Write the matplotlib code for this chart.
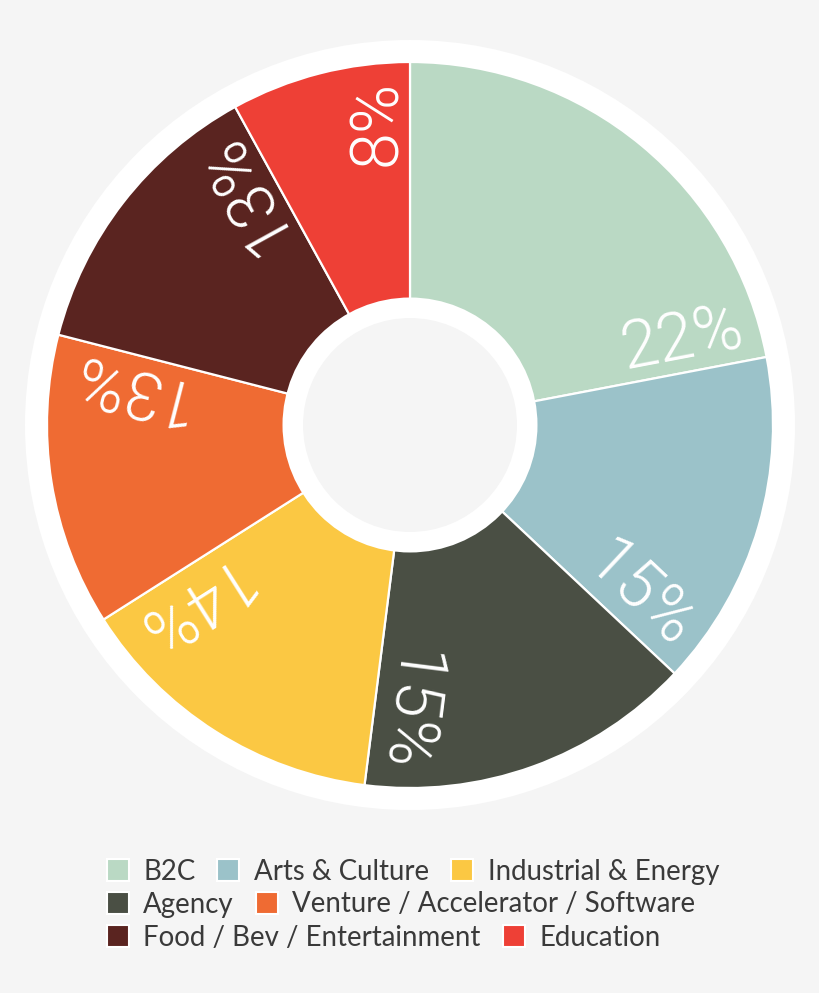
import numpy as np
import matplotlib
matplotlib.use("Agg")
import matplotlib.pyplot as plt
from matplotlib.patches import Circle
from matplotlib.lines import Line2D

categories = ["B2C", "Arts & Culture", "Agency", "Industrial & Energy",
              "Venture / Accelerator / Software", "Food / Bev / Entertainment", "Education"]
values = [22, 15, 15, 14, 13, 13, 8]
colors = ["#bad9c4", "#9bc2c9", "#4a4f44", "#fbc843", "#ef6b33", "#5a2420", "#ee4036"]
legend_rows = [["B2C", "Arts & Culture", "Industrial & Energy"],
               ["Agency", "Venture / Accelerator / Software"],
               ["Food / Bev / Entertainment", "Education"]]

BG = "#f5f5f5"
W, H = 820, 993
fig = plt.figure(figsize=(W / 100, H / 100), dpi=100, facecolor=BG)
ax = fig.add_axes([0, 0, 1, 1])
ax.set_facecolor(BG)

cx, cy = 410, H - 425
R = 363

ax.add_patch(Circle((cx, cy), 385, facecolor="white", edgecolor="none", zorder=0))
ax.pie(values, colors=colors, startangle=90, counterclock=False, radius=R,
       center=(cx, cy), wedgeprops=dict(edgecolor="white", linewidth=1.6))
ax.add_patch(Circle((cx, cy), 127.5, facecolor="white", edgecolor="none", zorder=5))
ax.add_patch(Circle((cx, cy), 107, facecolor=BG, edgecolor="none", zorder=6))

# labels along the end boundary of each slice
cum = np.cumsum(values) / np.sum(values)
r_out, off = 345, 14
for v, c in zip(values, cum):
    phi = np.deg2rad(90 - 360 * c)
    x = cx + r_out * np.cos(phi) - off * np.sin(phi)
    y = cy + r_out * np.sin(phi) + off * np.cos(phi)
    ax.text(x, y, f"{v}%", rotation=np.rad2deg(phi), rotation_mode="anchor",
            ha="right", va="baseline", color="white", fontsize=48,
            family=["Roboto"], fontweight=300, zorder=7)

ax.set_xlim(0, W)
ax.set_ylim(0, H)
ax.set_aspect("equal")
ax.axis("off")

# legend rows
fs = 19.9
cmap = dict(zip(categories, colors))
row_y = [872, 904.5, 938]
for row, yy in zip(legend_rows, row_y):
    handles = [Line2D([], [], marker="s", ls="none", markersize=16.5,
                      markerfacecolor=cmap[n], markeredgecolor="white",
                      markeredgewidth=1.5) for n in row]
    leg = fig.legend(handles, row, loc="center left", ncol=len(row),
                     bbox_to_anchor=(106 / W, 1 - yy / H), frameon=False,
                     borderpad=0, borderaxespad=0, handlelength=0.84,
                     handletextpad=0.5, columnspacing=0.78,
                     prop=dict(family="Lato", size=fs))
    for t in leg.get_texts():
        t.set_color("#3a3a3a")

fig.savefig("out.png", dpi=100, facecolor=BG)
